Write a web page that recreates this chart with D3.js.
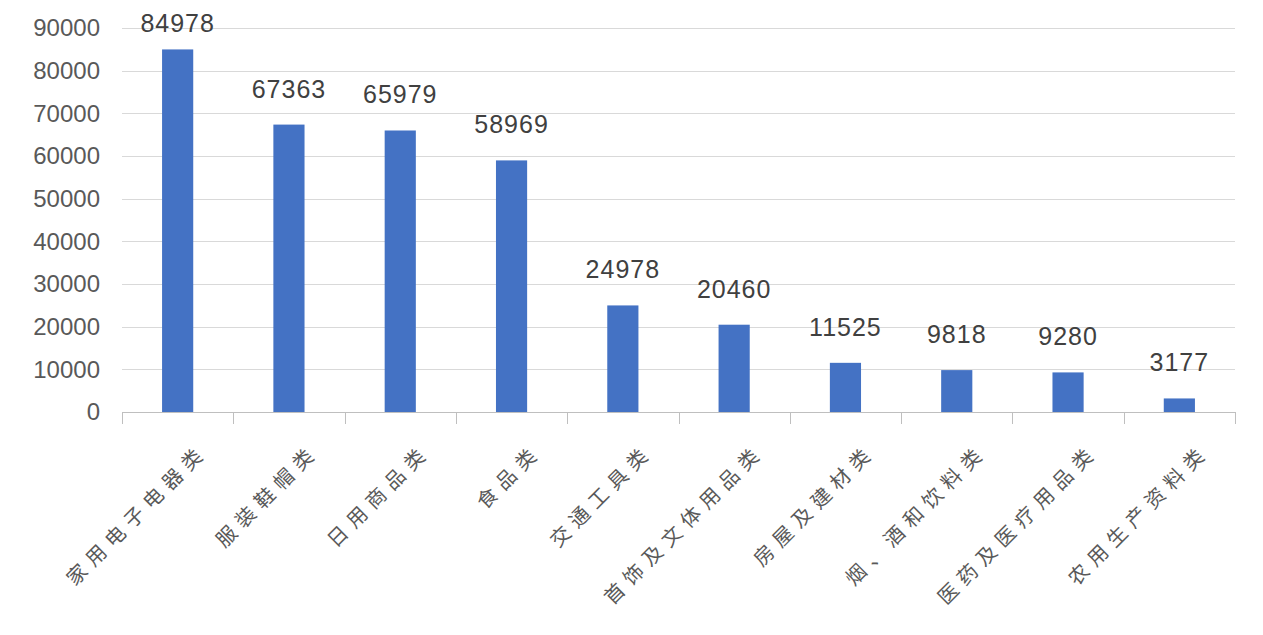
<!DOCTYPE html>
<html><head><meta charset="utf-8">
<script src="https://cdn.jsdelivr.net/npm/d3@7"></script>
<style>body{margin:0;background:#fff;}svg{display:block;}</style>
</head><body>
<svg id="c" width="1263" height="635"></svg>
<script>
const categories = ["家用电子电器类","服装鞋帽类","日用商品类","食品类","交通工具类","首饰及文体用品类","房屋及建材类","烟、酒和饮料类","医药及医疗用品类","农用生产资料类"];
const values = [84978,67363,65979,58969,24978,20460,11525,9818,9280,3177];
const yTicks = [0,10000,20000,30000,40000,50000,60000,70000,80000,90000];

(function(){
const svg = d3.select("#c");
const mLeft = 122, mRight = 1235, mTop = 28, mBottom = 412;
const font = "'Noto Sans CJK SC', 'Microsoft YaHei', sans-serif";
const numFont = "'Liberation Sans', Arial, sans-serif";

const x = d3.scaleBand().domain(categories).range([mLeft, mRight]).paddingInner(0.72).paddingOuter(0.36);
const y = d3.scaleLinear().domain([0, 90000]).range([mBottom, mTop]);

// gridlines
svg.append("g").selectAll("line").data(yTicks.filter(d=>d>0)).join("line")
  .attr("x1", mLeft).attr("x2", mRight)
  .attr("y1", d=>Math.round(y(d))+0.5).attr("y2", d=>Math.round(y(d))+0.5)
  .attr("stroke", "#d9d9d9").attr("stroke-width", 1);

// y axis labels
const yAxis = d3.axisLeft(y).tickValues(yTicks).tickSize(0).tickPadding(22).tickFormat(d3.format("d"));
const gy = svg.append("g").attr("transform", `translate(${mLeft},0)`).call(yAxis);
gy.select(".domain").remove();
gy.selectAll("text").attr("font-family", numFont).attr("font-size", 24).attr("fill", "#595959");

// bars
svg.append("g").selectAll("rect").data(values).join("rect")
  .attr("x", (d,i)=>x(categories[i]))
  .attr("width", x.bandwidth())
  .attr("y", d=>y(d))
  .attr("height", d=>mBottom - y(d))
  .attr("fill", "#4472c4");

// x axis
const step = x.step();
const ticksX = d3.range(categories.length + 1).map(i => mLeft + i*step);
svg.append("line").attr("x1", mLeft).attr("x2", mRight).attr("y1", mBottom+0.5).attr("y2", mBottom+0.5)
  .attr("stroke", "#bfbfbf");
svg.append("g").selectAll("line").data(ticksX).join("line")
  .attr("x1", d=>Math.round(d)+0.5).attr("x2", d=>Math.round(d)+0.5).attr("y1", mBottom).attr("y2", mBottom+12)
  .attr("stroke", "#bfbfbf");

// category labels
svg.append("g").selectAll("text").data(categories).join("text")
  .attr("transform", d=>`translate(${x(d)+x.bandwidth()/2+31},${mBottom+41}) rotate(-45)`)
  .attr("text-anchor", "end")
  .attr("font-family", font).attr("font-size", 20).attr("letter-spacing", 7)
  .attr("fill", "#595959")
  .text(d=>d);

// value labels
svg.append("g").selectAll("text").data(values).join("text")
  .attr("x", (d,i)=>x(categories[i]) + x.bandwidth()/2)
  .attr("y", d=>Math.max(y(d) - 27, 32))
  .attr("text-anchor", "middle")
  .attr("font-family", numFont).attr("font-size", 25).attr("letter-spacing", 1)
  .attr("fill", "#404040")
  .text(d=>d);
})();
</script>
</body></html>
